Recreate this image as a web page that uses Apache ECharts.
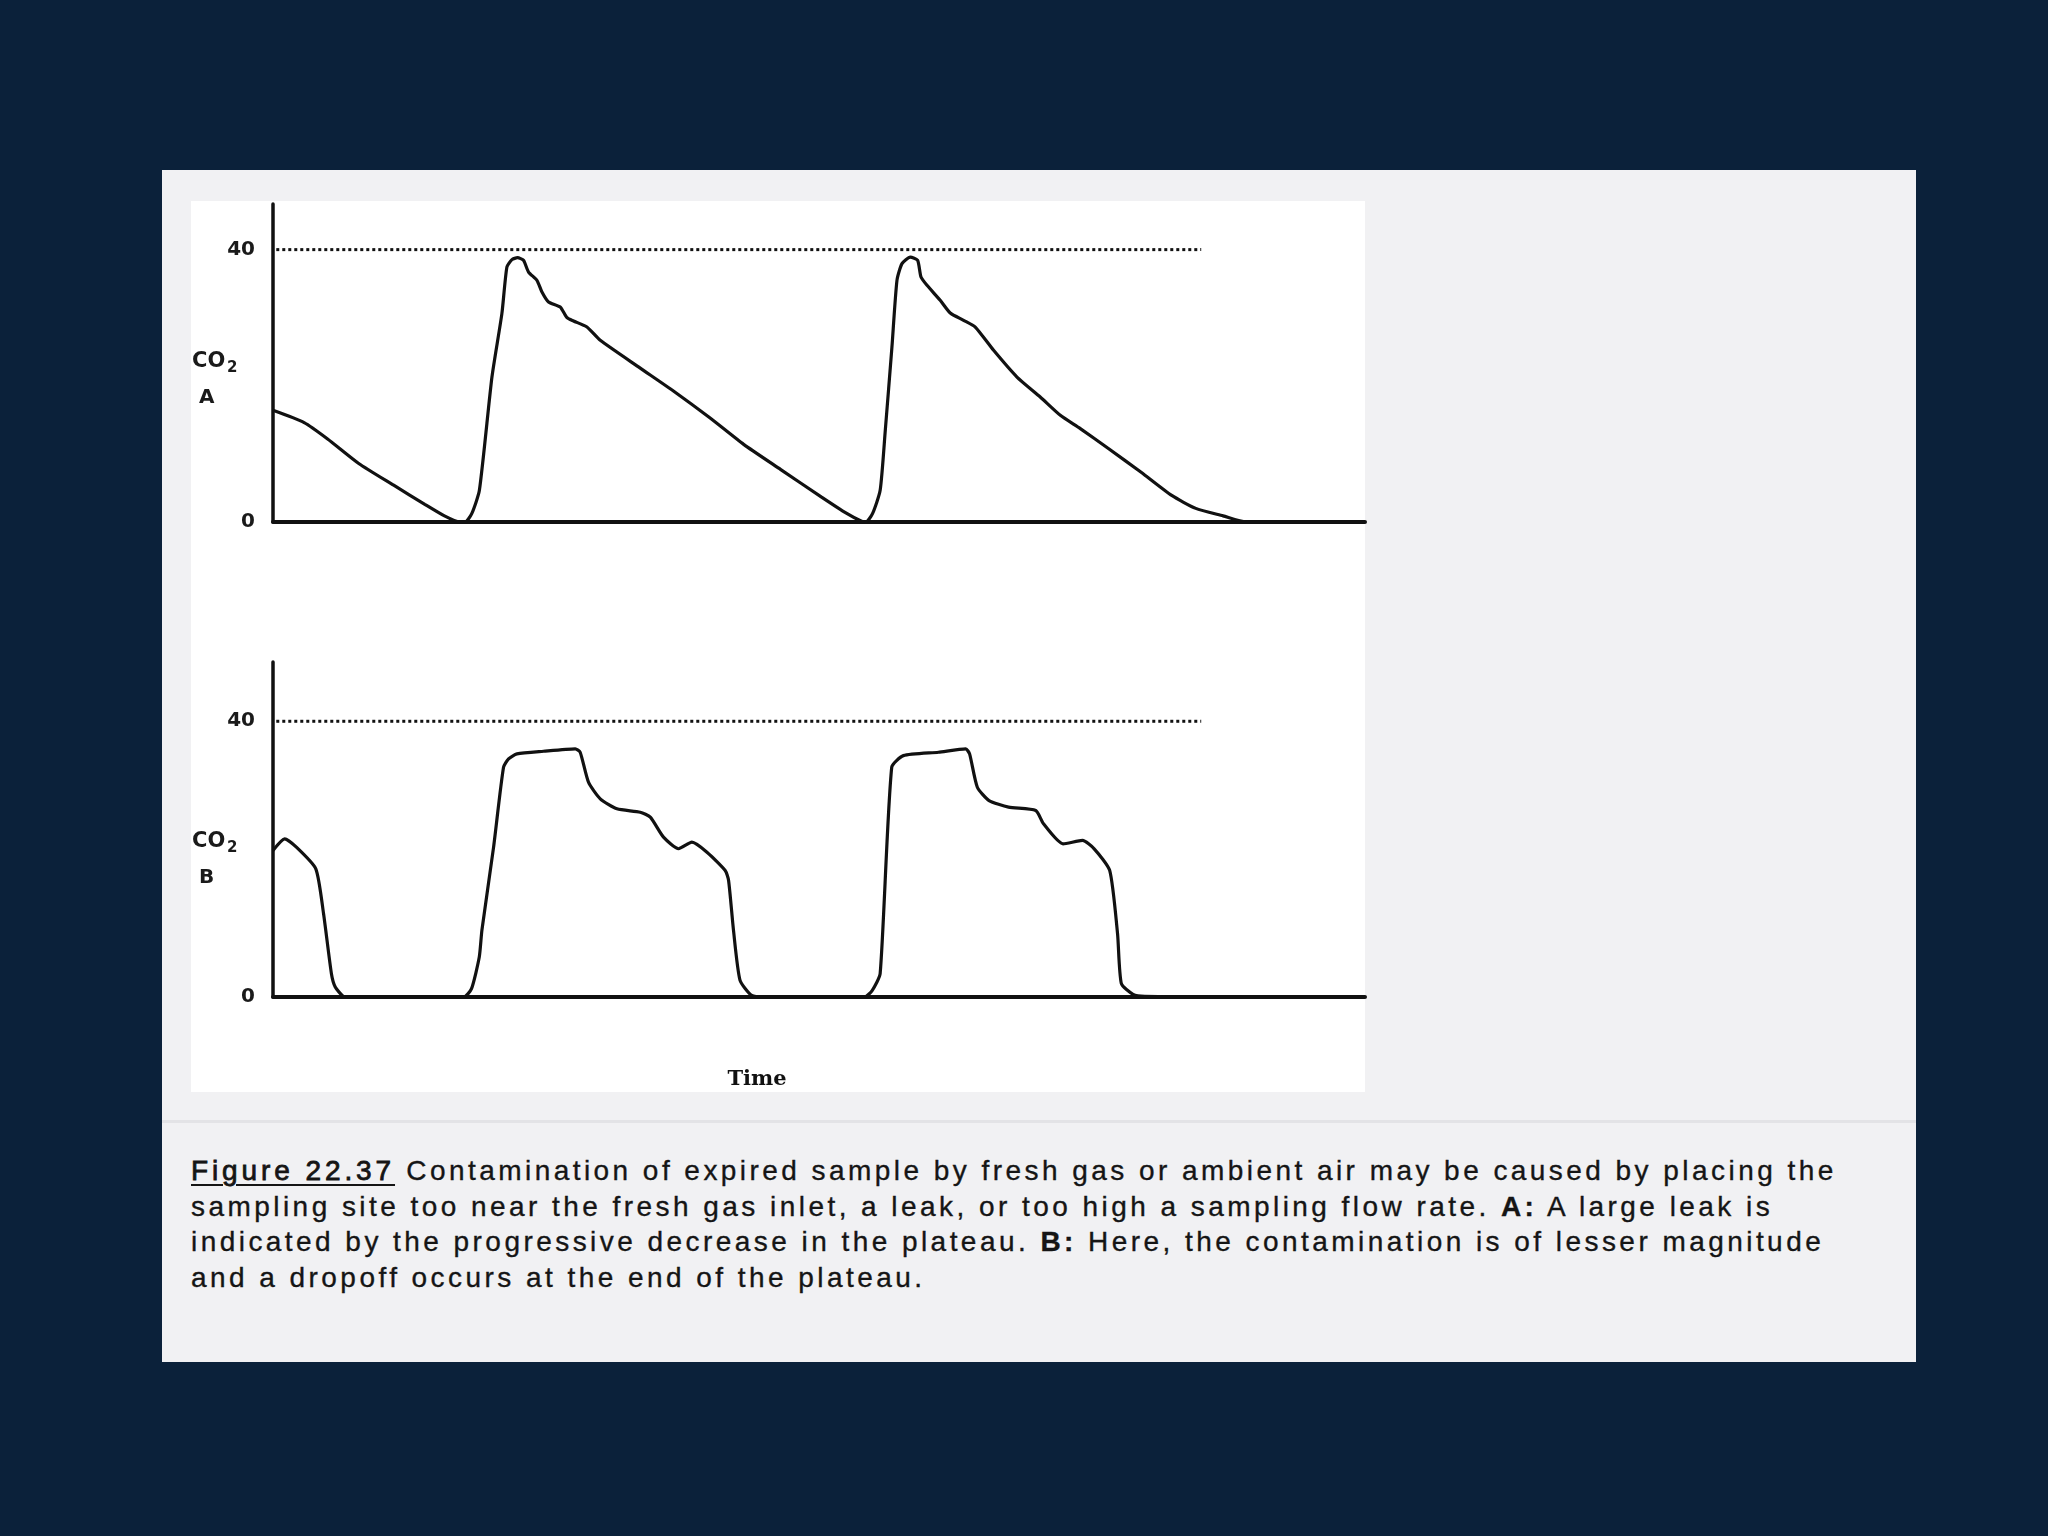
<!DOCTYPE html>
<html>
<head>
<meta charset="utf-8">
<script src="https://cdn.jsdelivr.net/npm/echarts@6/dist/echarts.min.js"></script>
<style>
  html, body { margin: 0; padding: 0; }
  body { width: 2048px; height: 1536px; background: #0b213a; overflow: hidden; position: relative; }
  #panel { position: absolute; left: 162px; top: 170px; width: 1754px; height: 1192px; background: #f1f1f3; }
  #white { position: absolute; left: 191px; top: 201px; width: 1174px; height: 891px; background: #ffffff; }
  #sep { position: absolute; left: 162px; top: 1120px; width: 1754px; height: 3px; background: #e3e3e6; }
  #caption { position: absolute; left: 191px; top: 1153px; font-family: "Liberation Sans", Arial, sans-serif;
             font-size: 28px; line-height: 35.5px; letter-spacing: 3.45px; color: #151515; white-space: nowrap;
             -webkit-text-stroke: 0.35px #151515; }
  #caption u { text-decoration-thickness: 2px; text-underline-offset: 4px; -webkit-text-stroke: 0.8px #151515; letter-spacing: 3.9px; }
  #chart { position: absolute; left: 0; top: 0; width: 2048px; height: 1536px; }
</style>
</head>
<body>
<div id="panel"></div>
<div id="white"></div>
<div id="sep"></div>
<div id="caption">
<u>Figure 22.37</u> Contamination of expired sample by fresh gas or ambient air may be caused by placing the<br>
sampling site too near the fresh gas inlet, a leak, or too high a sampling flow rate. <b>A:</b> A large leak is<br>
indicated by the progressive decrease in the plateau. <b>B:</b> Here, the contamination is of lesser magnitude<br>
and a dropoff occurs at the end of the plateau.
</div>
<div id="chart"></div>
<script>
// ---- data ----
const timeA = [0, 2.85, 5.0, 7.85, 11.05, 13.9, 15.7, 17.1, 17.6, 18.2,
  18.9, 20.05, 20.96, 21.42, 21.88, 22.39, 22.94, 23.4, 24.17, 24.63,
  25.23, 26.3, 26.92, 27.52, 28.75, 29.97, 33.63, 36.7, 40.0, 43.1,
  46.5, 50.2, 52.5, 53.9, 54.3, 54.9, 55.6, 56.07, 56.68, 57.14,
  57.6, 58.36, 59.03, 59.34, 59.89, 61.1, 62.02, 63.24, 64.31, 65.99,
  68.13, 70.26, 72.1, 73.93, 76.5, 79.5, 82.3, 84.5, 87.0, 89.1, 100];
const co2A = [16.4, 14.6, 12.2, 8.6, 5.4, 2.6, 0.9, 0, 0, 1.22,
  4.65, 21.29, 30.6, 37.44, 38.53, 38.82, 38.43, 36.71, 35.49, 33.77,
  32.31, 31.57, 30.01, 29.52, 28.63, 26.68, 22.6, 19.2, 15.3, 11.4,
  7.7, 3.7, 1.3, 0.1, 0, 1.22, 4.65, 13.47, 25.7, 35.49,
  37.94, 38.91, 38.43, 35.98, 34.76, 32.56, 30.69, 29.62, 28.63, 25.21,
  21.29, 18.36, 15.67, 13.72, 10.8, 7.3, 3.9, 2.0, 0.9, 0, 0];

const timeB = [0, 1.07, 2.14, 3.92, 4.63, 5.35, 5.7, 6.41, 6.77, 17.46,
  18.18, 18.89, 19.13, 20.2, 21.11, 21.57, 22.34, 24.77, 27.68, 28.13,
  28.89, 29.97, 31.5, 33.63, 34.55, 35.76, 37.14, 38.36, 39.74, 41.41,
  41.72, 42.17, 42.77, 43.83, 44.9, 54.17, 54.88, 55.6, 56.66, 57.73,
  60.94, 63.44, 63.79, 64.5, 65.57, 67.36, 69.85, 70.56, 72.35, 74.13,
  75.2, 76.62, 77.34, 77.69, 78.76, 79.83, 88.74];
const co2B = [21.26, 22.95, 21.74, 18.6, 12.08, 3.38, 1.45, 0.1, 0, 0,
  1.21, 5.8, 9.67, 21.74, 33.33, 34.55, 35.27, 35.65, 36.0, 35.51,
  31.16, 28.75, 27.3, 26.81, 26.09, 23.19, 21.51, 22.46, 21.01, 18.36,
  16.91, 9.67, 2.42, 0.24, 0, 0, 0.97, 3.38, 33.33, 35.02,
  35.51, 35.99, 35.27, 30.43, 28.5, 27.54, 27.05, 25.12, 22.22, 22.71,
  21.5, 18.36, 9.18, 1.93, 0.39, 0.1, 0];

const yTickValues = [0, 40];
const refLevel = 40;
const refStart = 0.3;
const refEnd = 85;
const timeMax = 100;
const yMaxA = 46.7;
const yMaxB = 48.6;
const xAxisTitle = 'Time';

// ---- chart ----
const pair = (xs, ys) => xs.map((x, i) => [x, ys[i]]);
const chart = echarts.init(document.getElementById('chart'), null, { renderer: 'canvas' });

const yAxisCommon = {
  type: 'value', min: 0,
  axisLine: { show: true, lineStyle: { color: '#111', width: 3.5 } },
  axisTick: { show: false },
  splitLine: { show: false },
  axisLabel: { customValues: yTickValues, fontFamily: 'DejaVu Sans', fontWeight: 'bold',
    fontSize: 20, color: '#1a1a1a', margin: 18, padding: [5, 0, 0, 0] }
};
const xAxisCommon = {
  type: 'value', min: 0, max: timeMax,
  axisLine: { show: true, onZero: true, lineStyle: { color: '#111', width: 4 } },
  axisTick: { show: false }, axisLabel: { show: false }, splitLine: { show: false }
};
const traceStyle = { color: '#111', width: 3.2 };
const refStyle = { color: '#111', width: 3, type: [3, 3] };

chart.setOption({
  backgroundColor: 'transparent',
  animation: false,
  grid: [
    { left: 273, top: 204, width: 1092, height: 318 },
    { left: 273, top: 662, width: 1092, height: 335 }
  ],
  xAxis: [
    Object.assign({ gridIndex: 0 }, xAxisCommon),
    Object.assign({ gridIndex: 1 }, xAxisCommon)
  ],
  yAxis: [
    Object.assign({ gridIndex: 0, max: yMaxA }, yAxisCommon),
    Object.assign({ gridIndex: 1, max: yMaxB }, yAxisCommon)
  ],
  series: [
    { type: 'line', name: 'ref A', xAxisIndex: 0, yAxisIndex: 0, symbol: 'none',
      data: [[refStart, refLevel], [refEnd, refLevel]], lineStyle: refStyle, z: 1 },
    { type: 'line', name: 'CO2 A', xAxisIndex: 0, yAxisIndex: 0, symbol: 'none',
      smooth: 0.2, data: pair(timeA, co2A), lineStyle: traceStyle, z: 3 },
    { type: 'line', name: 'ref B', xAxisIndex: 1, yAxisIndex: 1, symbol: 'none',
      data: [[refStart, refLevel], [refEnd, refLevel]], lineStyle: refStyle, z: 1 },
    { type: 'line', name: 'CO2 B', xAxisIndex: 1, yAxisIndex: 1, symbol: 'none',
      smooth: 0.2, data: pair(timeB, co2B), lineStyle: traceStyle, z: 3 }
  ],
  graphic: [
    { type: 'text', x: 192, y: 362, style: { text: 'CO', font: 'bold 21px "DejaVu Sans"', fill: '#1a1a1a', textAlign: 'left', textVerticalAlign: 'middle' } },
    { type: 'text', x: 227, y: 368, style: { text: '2', font: 'bold 15px "DejaVu Sans"', fill: '#1a1a1a', textAlign: 'left', textVerticalAlign: 'middle' } },
    { type: 'text', x: 199, y: 398, style: { text: 'A', font: 'bold 20px "DejaVu Sans"', fill: '#1a1a1a', textAlign: 'left', textVerticalAlign: 'middle' } },
    { type: 'text', x: 192, y: 842, style: { text: 'CO', font: 'bold 21px "DejaVu Sans"', fill: '#1a1a1a', textAlign: 'left', textVerticalAlign: 'middle' } },
    { type: 'text', x: 227, y: 848, style: { text: '2', font: 'bold 15px "DejaVu Sans"', fill: '#1a1a1a', textAlign: 'left', textVerticalAlign: 'middle' } },
    { type: 'text', x: 199, y: 878, style: { text: 'B', font: 'bold 20px "DejaVu Sans"', fill: '#1a1a1a', textAlign: 'left', textVerticalAlign: 'middle' } },
    { type: 'text', x: 757, y: 1080, style: { text: xAxisTitle, font: 'bold 21px "DejaVu Serif"', fill: '#111', textAlign: 'center', textVerticalAlign: 'middle' } }
  ]
});
</script>
</body>
</html>
